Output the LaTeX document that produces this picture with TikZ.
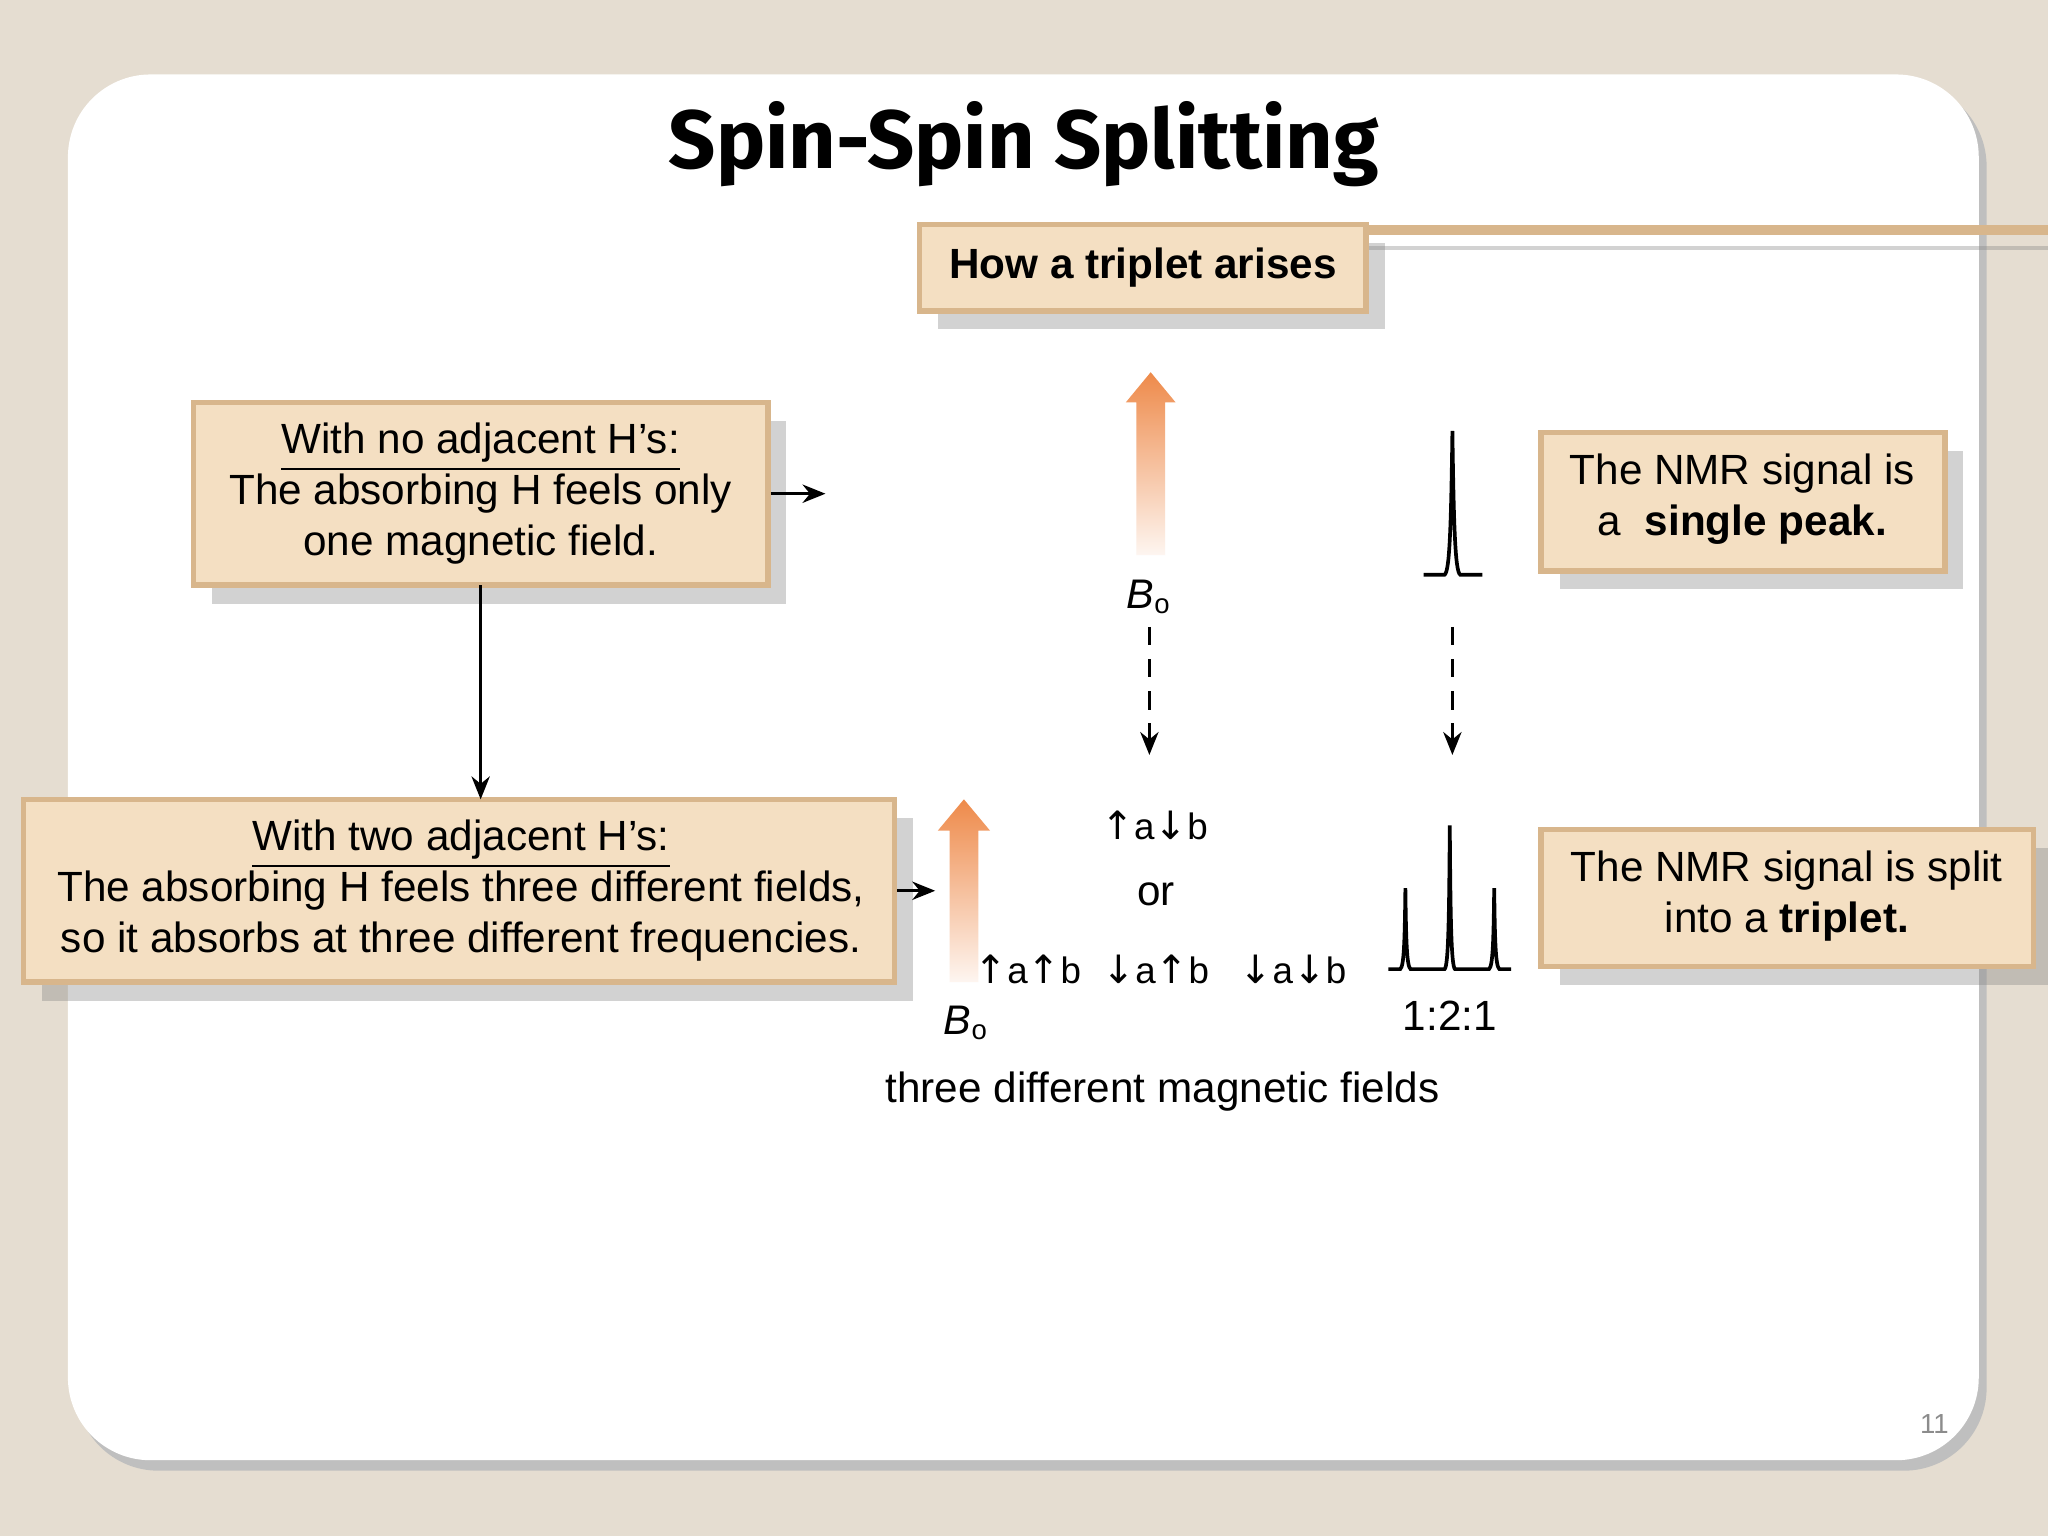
\documentclass[tikz,border=0pt]{standalone}
\usepackage{fontspec}
\setmainfont{Liberation Sans}
\newfontfamily\titlefont{Fira Sans}
\newfontfamily\symfont{DejaVu Sans}
\usetikzlibrary{shadows,arrows.meta}
\definecolor{bgc}{HTML}{E5DDD1}
\definecolor{boxf}{HTML}{F4DFC2}
\definecolor{boxd}{HTML}{D8B68C}
\definecolor{orng}{HTML}{EE8A4A}
\tikzset{
  infobox/.style={draw=boxd,line width=1.2pt,fill=boxf,drop shadow={opacity=0.35,shadow xshift=4pt,shadow yshift=-4pt},inner sep=0pt},
  txt/.style={font=\fontsize{9.2}{11}\selectfont,align=center,inner sep=0pt},
  conn/.style={-{Stealth[length=5pt,width=4pt]},line width=0.6pt},
  dconn/.style={conn,dash pattern=on 4pt off 3pt},
  spin/.style={font=\fontsize{8}{9}\selectfont,inner sep=0pt}
}
\newcommand{\up}{{\symfont\fontsize{8.5}{9}\selectfont↑}}
\newcommand{\dn}{{\symfont\fontsize{8.5}{9}\selectfont↓}}
\begin{document}
\begin{tikzpicture}[x=0.01cm,y=-0.01cm]
\fill[bgc] (0,0) rectangle (1568,1176);
\useasboundingbox (0,0) rectangle (1568,1176);
\fill[black!25,rounded corners=18pt] (58,64) rectangle (1521,1126);
\fill[white,rounded corners=18pt] (52,57) rectangle (1515,1118);
\node[font=\titlefont\bfseries\fontsize{18}{20}\selectfont] (title) at (784,110) {Spin-Spin Splitting};
% boxes
\node[infobox,minimum width=342\pgflinewidth,anchor=north west] at (704,172) {};
\draw[infobox] (704,172) rectangle (1046,238);
\node[txt,font=\bfseries\fontsize{9.2}{11}\selectfont] (how) at (875,205) {How a triplet arises};
\draw[infobox] (148,308) rectangle (588,448);
\coordinate (b1r) at (588,378); \coordinate (b1b) at (368,448);
\node[txt,font=\fontsize{9.2}{11.1}\selectfont] (t1) at (368,378) {\underline{With no adjacent H's:}\\The absorbing H feels only\\one magnetic field.};
\draw[infobox] (18,612) rectangle (685,752);
\coordinate (b2t) at (368,612); \coordinate (b2r) at (687,682);
\node[txt,font=\fontsize{9.2}{11.1}\selectfont] (t2) at (353,682) {\underline{With two adjacent H's:}\\The absorbing H feels three different fields,\\so it absorbs at three different frequencies.};
\draw[infobox] (1180,331) rectangle (1489,437);
\node[txt,font=\fontsize{9.2}{11.1}\selectfont] (t3) at (1334,382) {The NMR signal is\\a\ \ \textbf{single peak.}};
\draw[infobox] (1180,635) rectangle (1557,740);
\node[txt,font=\fontsize{9.2}{11.1}\selectfont] (t4) at (1368,686) {The NMR signal is split\\into a \textbf{triplet.}};
% connectors
\coordinate (a1e) at (632,378); \draw[conn] (b1r)++(2,0) -- (a1e);
\draw[conn] (b1b) -- (b2t);
\coordinate (a2e) at (716,682); \draw[conn] (b2r) -- (a2e);
% orange arrows
\shade[top color=orng,bottom color=orng!8] (870,425) -- (870,308) -- (862,308) -- (881,285) -- (900,308) -- (892,308) -- (892,425) -- cycle;
\shade[top color=orng,bottom color=orng!8] (727,752) -- (727,636) -- (718,636) -- (738,612) -- (758,636) -- (749,636) -- (749,752) -- cycle;
\node[txt,font=\itshape\fontsize{9}{10}\selectfont] (B1) at (880,457) {B\textsubscript{\upshape o}};
\node[txt,font=\itshape\fontsize{9}{10}\selectfont] (B2) at (740,783) {B\textsubscript{\upshape o}};
\coordinate (d1s) at (880,480); \coordinate (d1e) at (880,578);
\draw[dconn] (d1s) -- (d1e);
\coordinate (d2s) at (1112,480); \coordinate (d2e) at (1112,578);
\draw[dconn] (d2s) -- (d2e);
% peaks
\draw[line width=0.8pt] (1090,440) -- (1106,440) .. controls (1110,438) and (1111,400) .. (1112,330) .. controls (1113,400) and (1114,438) .. (1118,440) -- (1135,440);
\draw[line width=0.8pt] (1063,742) -- (1072,742) .. controls (1075,740) and (1075.5,720) .. (1076,680) .. controls (1076.5,720) and (1077,740) .. (1080,742)
 -- (1106,742) .. controls (1109,740) and (1109.5,700) .. (1110,632) .. controls (1110.5,700) and (1111,740) .. (1114,742)
 -- (1140,742) .. controls (1143,740) and (1143.5,720) .. (1144,680) .. controls (1144.5,720) and (1145,740) .. (1148,742) -- (1157,742);
\node[txt] (ratio) at (1110,778) {1:2:1};
% spins
\node[spin] (s1) at (884,632) {\up a\dn b};
\node[txt] (or) at (885,685) {or};
\node[spin] (s2) at (787,742) {\up a\up b};
\node[spin] (s3) at (885,742) {\dn a\up b};
\node[spin] (s4) at (990,742) {\dn a\dn b};
\node[txt] (three) at (890,836) {three different magnetic fields};
\node[txt,font=\fontsize{6}{7}\selectfont,text=black!45] (pg) at (1481,1090) {11};
\end{tikzpicture}
\end{document}
